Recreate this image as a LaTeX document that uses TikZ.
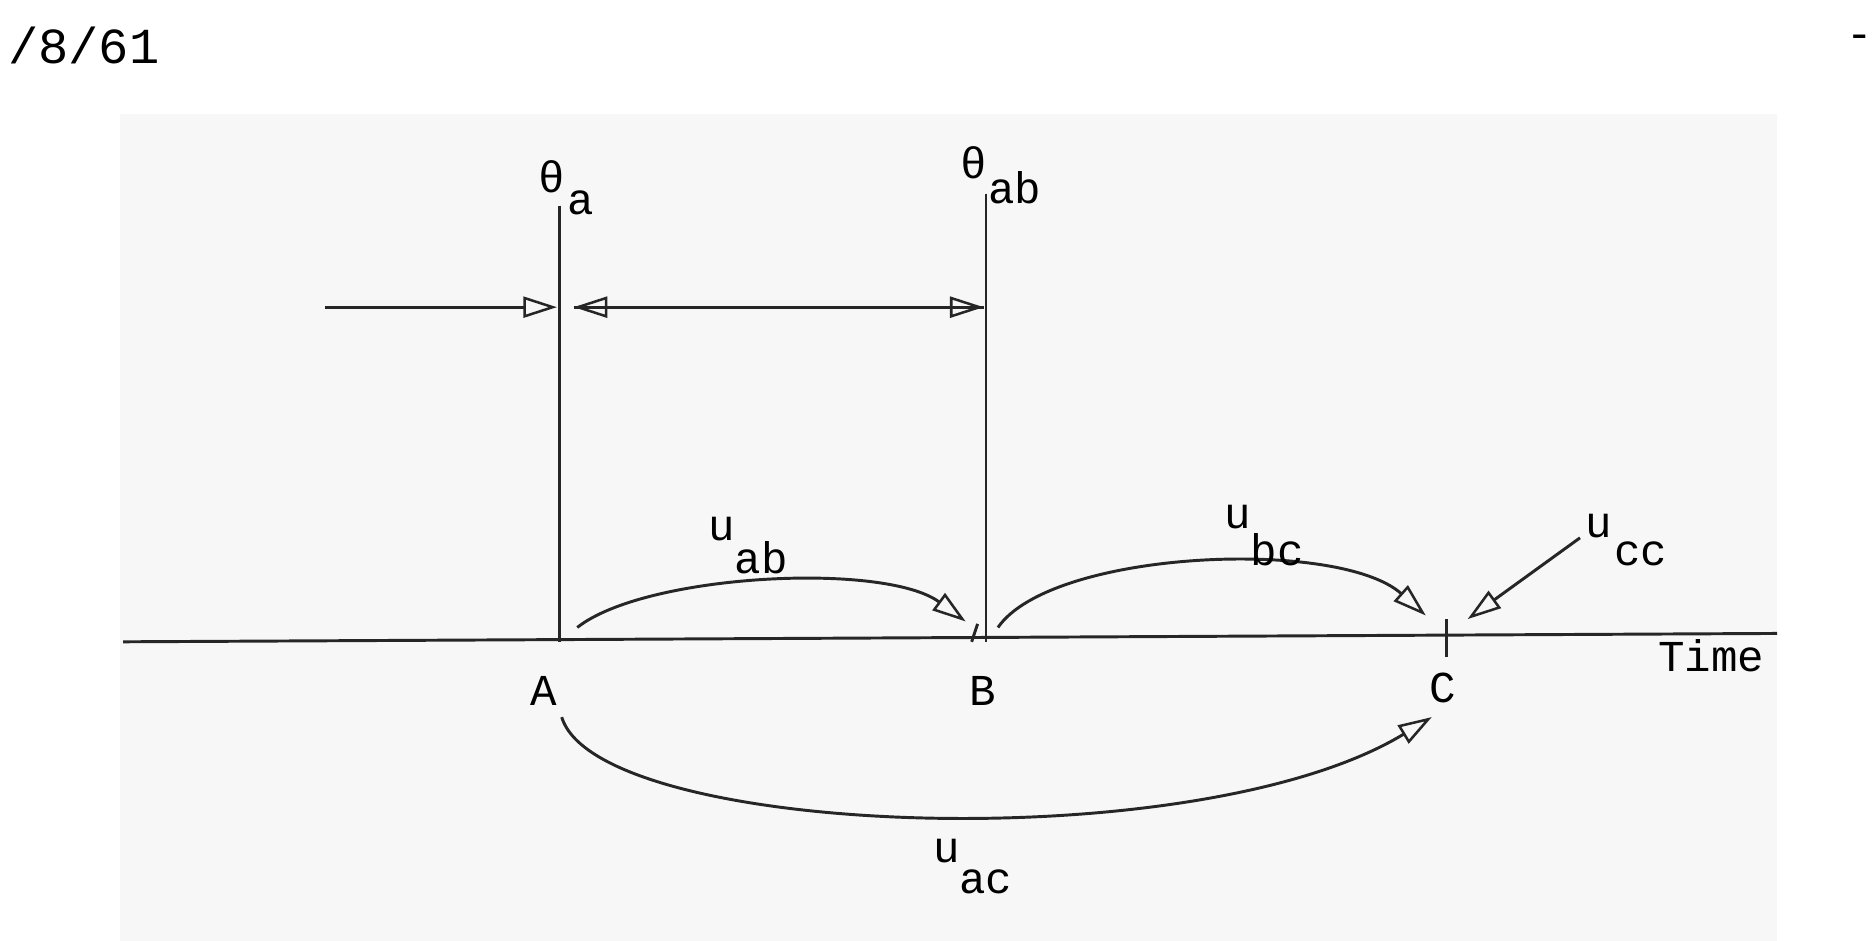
\documentclass[tikz,border=0pt]{standalone}
\usepackage{fontspec}
\setmainfont{Liberation Mono}
\usetikzlibrary{arrows.meta}
\begin{document}
\begin{tikzpicture}[x=0.01cm,y=-0.01cm,
  ln/.style={line width=0.7pt,black!85},
  oa/.style={ln,-{Triangle[open,length=8pt,width=5pt,line width=0.6pt]}},
  lab/.style={font=\fontsize{10.5pt}{10.5pt}\selectfont,inner sep=0pt},
  sub/.style={font=\fontsize{10.5pt}{10.5pt}\selectfont,inner sep=0pt,anchor=west}]
\useasboundingbox (0,0) rectangle (1568,787);
\fill[black!3] (100,95) rectangle (1487,787);
\node[lab,anchor=west,font=\fontsize{12pt}{12pt}\selectfont] (hdr) at (6,38) {/8/61};
\node[lab] (dash) at (1556,35) {-};
% axis
\coordinate (t0) at (103,537); \coordinate (t1) at (1487,530);
\draw[ln] (t0) -- (t1);
\node[lab] (time) at (1432,549) {Time};
% verticals
\coordinate (Atop) at (468,172); \coordinate (Abot) at (468,537);
\coordinate (Btop) at (825,162); \coordinate (Bbot) at (825,537);
\draw[ln] (Atop) -- (Abot);
\draw[ln] (Btop) -- (Bbot);
\coordinate (Ct) at (1210,518); \coordinate (Cb) at (1210,550);
\draw[ln] (Ct) -- (Cb);
\coordinate (Bt) at (818,522); \coordinate (Bb) at (813,537);
\draw[ln] (Bt) -- (Bb);
\node[lab] (tha) at (462,148) {θ};
\node[sub] (tha_s) at (474,170) {a};
\node[lab] (thb) at (815,136) {θ};
\node[sub] (thb_s) at (826,157) {ab};
% horizontal arrows
\coordinate (h0) at (272,257); \coordinate (h1) at (466,257);
\coordinate (h2) at (480,257); \coordinate (h3) at (823,257);
\draw[oa] (h0) -- (h1);
\draw[oa] (h3) -- (h2);
\draw[oa] (h2) -- (h3);
% curves
\coordinate (ab0) at (483,525); \coordinate (ab1) at (808,520);
\draw[oa] (ab0) .. controls (540,480) and (740,470) .. (ab1);
\node[lab] (uab) at (604,443) {u};
\node[sub] (uab_s) at (614,467) {ab};
\coordinate (bc0) at (835,525); \coordinate (bc1) at (1193,515);
\draw[oa] (bc0) .. controls (880,460) and (1120,450) .. (bc1);
\node[lab] (ubc) at (1036,433) {u};
\node[sub] (ubc_s) at (1046,460) {bc};
\coordinate (cc0) at (1322,450); \coordinate (cc1) at (1228,518);
\draw[oa] (cc0) -- (cc1);
\node[lab] (ucc) at (1338,440) {u};
\node[sub] (ucc_s) at (1350,463) {cc};
\coordinate (ac0) at (470,600); \coordinate (ac1) at (1198,600);
\draw[oa] (ac0) .. controls (500,700) and (1000,720) .. (ac1);
\node[lab] (uac) at (792,712) {u};
\node[sub] (uac_s) at (802,738) {ac};
% point labels
\node[lab] (A) at (455,578) {A};
\node[lab] (B) at (822,578) {B};
\node[lab] (C) at (1207,576) {C};
\end{tikzpicture}
\end{document}
